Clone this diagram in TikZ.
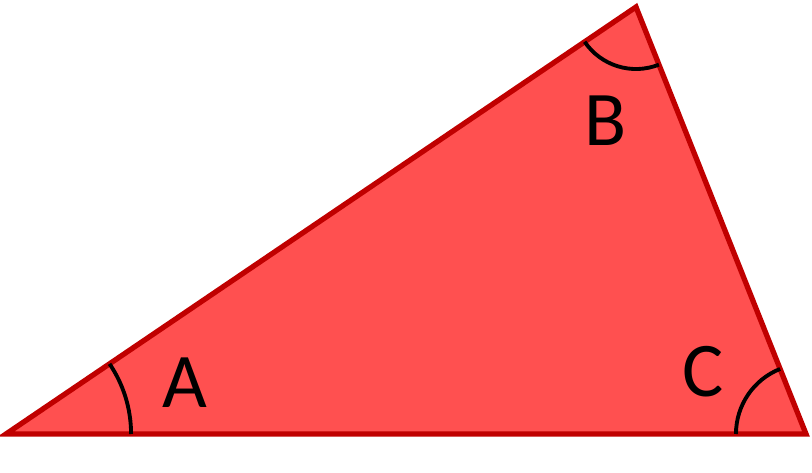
\documentclass[tikz,border=0pt]{standalone}
\usepackage{fontspec}
\setmainfont{Carlito}
\usepackage{xcolor}
\usetikzlibrary{calc}
\definecolor{trifill}{RGB}{255,80,80}
\definecolor{triedge}{RGB}{192,0,0}

\begin{document}
\begin{tikzpicture}[
    x=0.01cm, y=0.01cm,
    triangle/.style={draw=triedge, fill=trifill, line width=1.5pt, line join=miter},
    anglemark/.style={draw=black, line width=1.1pt},
    vlabel/.style={font=\fontsize{22}{26}\selectfont, text=black, inner sep=0pt}
]
    \useasboundingbox (0,0) rectangle (812,473);

    % Vertices
    \coordinate (A) at (6,39);
    \coordinate (B) at (636,466);
    \coordinate (C) at (806,39);

    % Triangle
    \draw[triangle] (A) -- (B) -- (C) -- cycle;

    % Angle marks
    \draw[anglemark] ($(A)+(0:1.25cm)$) arc[start angle=0, end angle=34.1, radius=1.25cm];
    \draw[anglemark] ($(B)+(214.1:0.62cm)$) arc[start angle=214.1, end angle=291.7, radius=0.62cm];
    \draw[anglemark] ($(C)+(111.7:0.7cm)$) arc[start angle=111.7, end angle=180, radius=0.7cm];

    % Labels
    \node[vlabel] (la) at (185,90) {A};
    \node[vlabel] (lb) at (606,352) {B};
    \node[vlabel] (lc) at (703,101) {C};

\end{tikzpicture}
\end{document}
